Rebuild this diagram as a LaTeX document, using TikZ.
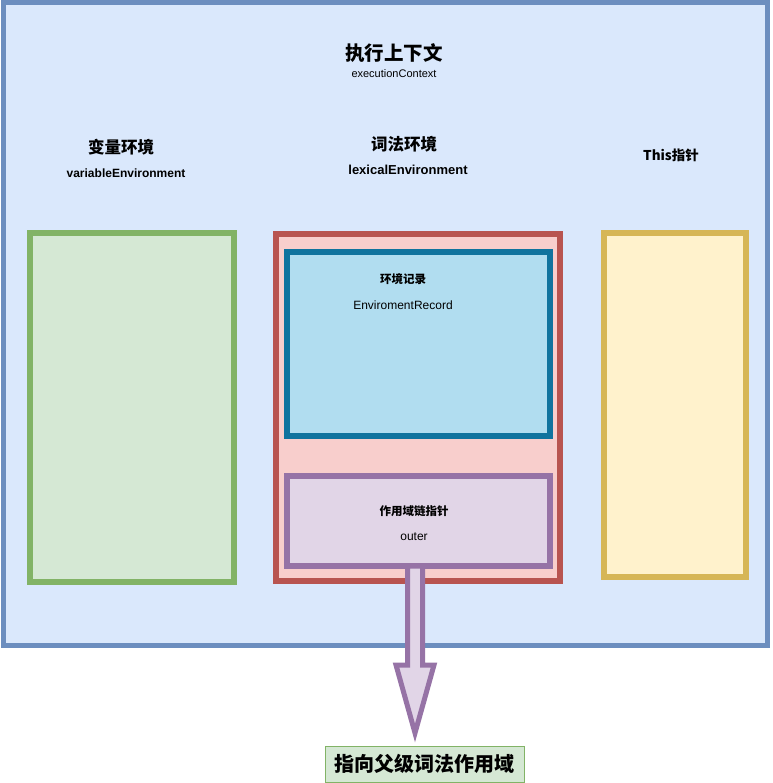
\documentclass[tikz,border=0pt]{standalone}
\usepackage{fontspec}
\setmainfont{Liberation Sans}
\newfontfamily\cjk{Noto Sans CJK SC}
\usetikzlibrary{calc, positioning}

\definecolor{ctxfill}{HTML}{DAE8FC}
\definecolor{ctxline}{HTML}{6C8EBF}
\definecolor{varfill}{HTML}{D5E8D4}
\definecolor{varline}{HTML}{82B366}
\definecolor{lexfill}{HTML}{F8CECC}
\definecolor{lexline}{HTML}{B85450}
\definecolor{recfill}{HTML}{B1DDF0}
\definecolor{recline}{HTML}{10739E}
\definecolor{outfill}{HTML}{E1D5E7}
\definecolor{outline}{HTML}{9673A6}
\definecolor{thisfill}{HTML}{FFF2CC}
\definecolor{thisline}{HTML}{D6B656}

\begin{document}
\begin{tikzpicture}[x=1pt, y=-1pt,
        box/.style = {rectangle, draw, line width=6pt, outer sep=0pt, inner sep=0pt},
        title/.style = {font=\cjk\bfseries\fontsize{#1}{#1}\selectfont, inner sep=0pt},
        sub/.style = {font=\fontsize{#1}{#1}\selectfont, inner sep=0pt},
        boldsub/.style = {font=\bfseries\fontsize{#1}{#1}\selectfont, inner sep=0pt}]
                    \useasboundingbox (0,0) rectangle (772,783);

                    \node (ctx) [box, line width=5pt, draw=ctxline, fill=ctxfill,
                        minimum width=764pt, minimum height=642pt] at (385,324) {};
                    \node (var) [box, draw=varline, fill=varfill,
                        minimum width=204pt, minimum height=349pt] at (132,407.5) {};
                    \node (lex) [box, draw=lexline, fill=lexfill,
                        minimum width=284pt, minimum height=347pt] at (418,407.5) {};
                    \node (rec) [box, draw=recline, fill=recfill,
                        minimum width=263pt, minimum height=184pt] at (418.5,344) {};
                    \node (outer) [box, draw=outline, fill=outfill,
                        minimum width=263pt, minimum height=90pt] at (418.5,521) {};
                    \node (this) [box, draw=thisline, fill=thisfill,
                        minimum width=142pt, minimum height=344pt] at (675,405) {};
                    \node (parent) [box, line width=1pt, draw=varline, fill=varfill,
                        minimum width=199pt, minimum height=36pt, title=20] at (424.5,764) {指向父级词法作用域};

                    % labels
                    \node (ctxt) [title=19.5] at (394,53) {执行上下文};
                    \node (ctxs) [sub=11] at (394,74) {executionContext};
                    \node (vart) [title=16.5] at (121,147) {变量环境};
                    \node (vars) [boldsub=12] at (126,173) {variableEnvironment};
                    \node (lext) [title=16.5] at (404,144) {词法环境};
                    \node (lexs) [boldsub=13] at (408,170) {lexicalEnvironment};
                    \node (thist) [title=13.5] at (671,155) {This指针};
                    \node (rect) [title=11.5] at (403,279) {环境记录};
                    \node (recs) [sub=12] at (403,305) {EnviromentRecord};
                    \node (outert) [title=11.5] at (414,511) {作用域链指针};
                    \node (outers) [sub=12] at (414,537) {outer};

                    % pointer to the parent scope
                    \coordinate (tip) at ($(outer.south |- parent.north)+(-3.5,-13)$);
                    \draw [line width=5pt, draw=outline, fill=outfill]
                        ($(tip |- outer.south)+(-7.5,0)$) -- ($(tip)+(-7.5,-68)$)
                        -- ($(tip)+(-19,-68)$) -- (tip) -- ($(tip)+(19,-68)$)
                        -- ($(tip)+(7.5,-68)$) -- ($(tip |- outer.south)+(7.5,0)$) -- cycle;
                \end{tikzpicture}
\end{document}
